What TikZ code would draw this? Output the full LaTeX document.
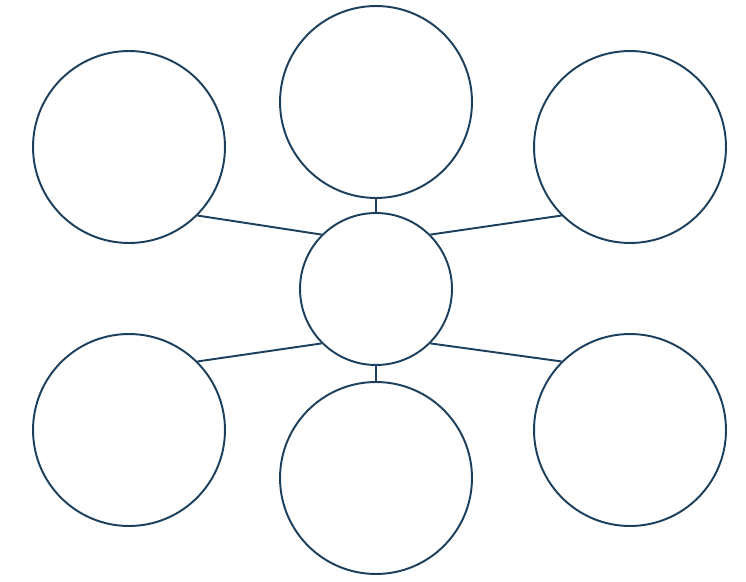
\documentclass[tikz,border=0pt]{standalone}
\usepackage{tikz}
\definecolor{navy}{HTML}{1B3F5C}

\begin{document}
\begin{tikzpicture}[x=0.02cm,y=-0.02cm,
  bubble/.style={circle,draw=navy,line width=1.1pt,minimum size=3.84cm,inner sep=0pt},
  hub/.style={bubble,minimum size=3.04cm},
  spoke/.style={draw=navy,line width=1.1pt}]
\useasboundingbox (0,0) rectangle (746,581);
%centre
\node[hub] (hub) at (376,289) {};
%outer circles
\node[bubble] (top) at (376,102) {};
\node[bubble] (bottom) at (376,478) {};
\node[bubble] (topleft) at (129,147) {};
\node[bubble] (topright) at (630,147) {};
\node[bubble] (bottomleft) at (129,430) {};
\node[bubble] (bottomright) at (630,430) {};
%spokes
\path[spoke] (hub) -- (top);
\path[spoke] (hub) -- (bottom);
\foreach \leaf/\from/\to in {topleft/135/-45,topright/45/225,bottomleft/225/45,bottomright/-45/135}
  \path[spoke] (hub.\from) -- (\leaf.\to);
\end{tikzpicture}
\end{document}
